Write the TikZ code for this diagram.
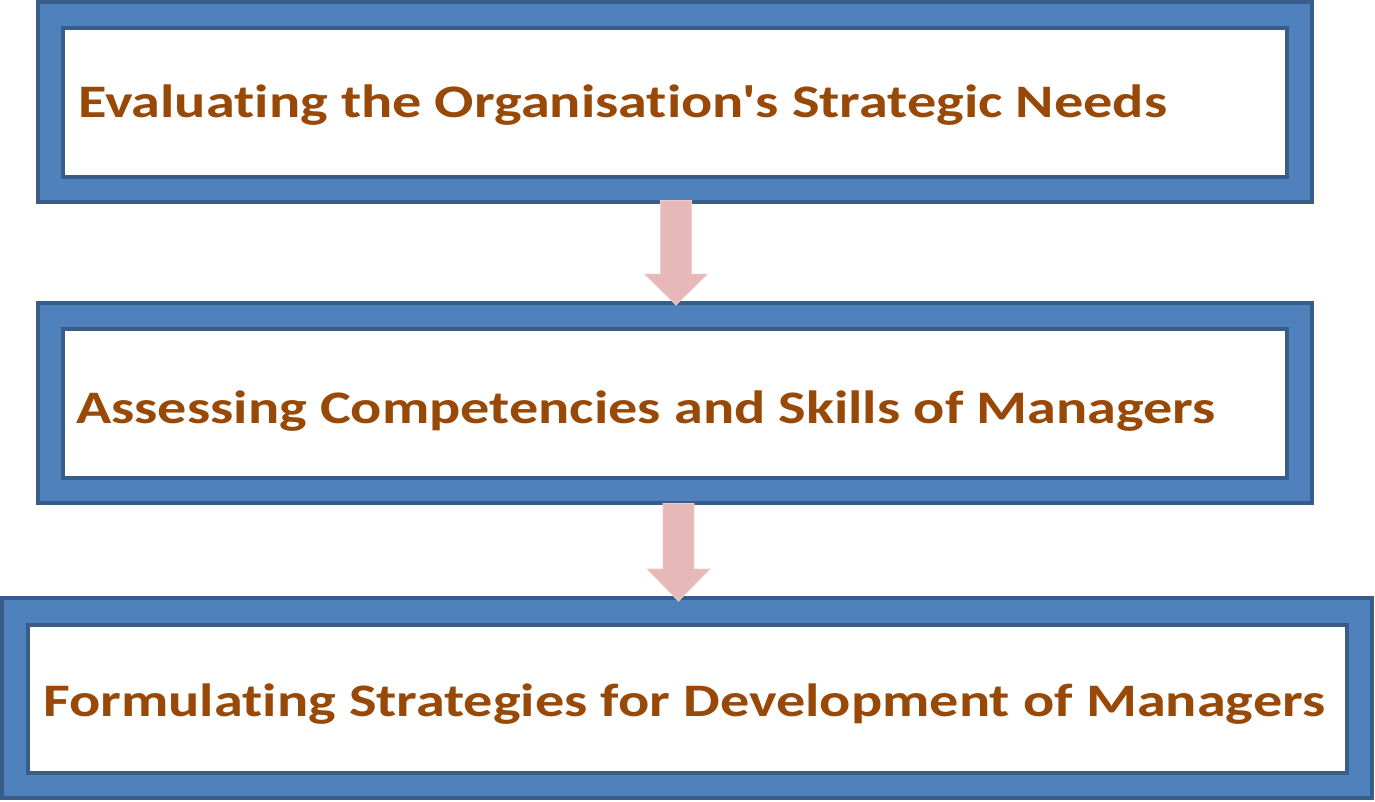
\documentclass[tikz,border=0pt]{standalone}
\usepackage{graphicx}
\usepackage{fontspec}
\newfontfamily\boxfont{Carlito}[Ligatures={NoCommon}]
\usetikzlibrary{calc}
\definecolor{boxblue}{HTML}{4F81BD}
\definecolor{boxedge}{HTML}{385D8A}
\definecolor{txtbrown}{HTML}{984807}
\definecolor{arrowpink}{HTML}{E6B9B8}
\newcommand{\widetext}[1]{\scalebox{1.25}[1]{#1}}
\tikzset{
  outerbox/.style={rectangle, draw=boxedge, fill=boxblue, line width=4pt, inner sep=0pt, outer sep=0pt},
  innerbox/.style={rectangle, draw=boxedge, fill=white, line width=4pt, inner sep=0pt, outer sep=0pt},
  label text/.style={anchor=base west, inner sep=0pt, text=txtbrown, font=\boxfont\fontsize{46.6}{56}\selectfont\bfseries},
  fatarrow/.style={fill=arrowpink, draw=arrowpink!70!white, line width=0.8pt, line join=miter}
}
\begin{document}
\begin{tikzpicture}[x=1pt,y=-1pt]
\useasboundingbox (0,0) rectangle (1375,801);
% box 1
\node[outerbox, minimum width=1274pt, minimum height=199.5pt] (o1) at (675,101.75) {};
\node[innerbox, minimum width=1224pt, minimum height=149pt] (i1) at (675,102.5) {};
\node[label text] (t1) at (78,117) {\widetext{Evaluating the Organisation's Strategic Needs}};
% box 2
\node[outerbox, minimum width=1274pt, minimum height=199.5pt] (o2) at (675,402.75) {};
\node[innerbox, minimum width=1224pt, minimum height=149pt] (i2) at (675,403.5) {};
\node[label text] (t2) at (76,423) {\widetext{Assessing Competencies and Skills of Managers}};
% box 3
\node[outerbox, minimum width=1370.5pt, minimum height=200.5pt] (o3) at (686.75,697.75) {};
\node[innerbox, minimum width=1319pt, minimum height=148.5pt] (i3) at (687,698.75) {};
\node[label text] (t3) at (43,716) {\widetext{Formulating Strategies for Development of Managers}};
% arrow 1
\path ($(o1.south)+(1,-1)$) coordinate (a1top) ($(o2.north)+(1,2)$) coordinate (a1tip);
\draw[fatarrow] ($(a1top)+(-15.5,0)$) -- ($(a1top)+(15.5,0)$) -- ($(a1tip)+(15.5,-31)$) -- ($(a1tip)+(31.5,-31)$) -- (a1tip) -- ($(a1tip)+(-31.5,-31)$) -- ($(a1tip)+(-15.5,-31)$) -- cycle;
% arrow 2
\path ($(o2.south)+(3.5,1)$) coordinate (a2top) ($(o3.north)+(-8.25,3.5)$) coordinate (a2tip);
\draw[fatarrow] ($(a2top)+(-15.5,0)$) -- ($(a2top)+(15.5,0)$) -- ($(a2tip)+(15.5,-32)$) -- ($(a2tip)+(31.5,-32)$) -- (a2tip) -- ($(a2tip)+(-31.5,-32)$) -- ($(a2tip)+(-15.5,-32)$) -- cycle;
\end{tikzpicture}
\end{document}
